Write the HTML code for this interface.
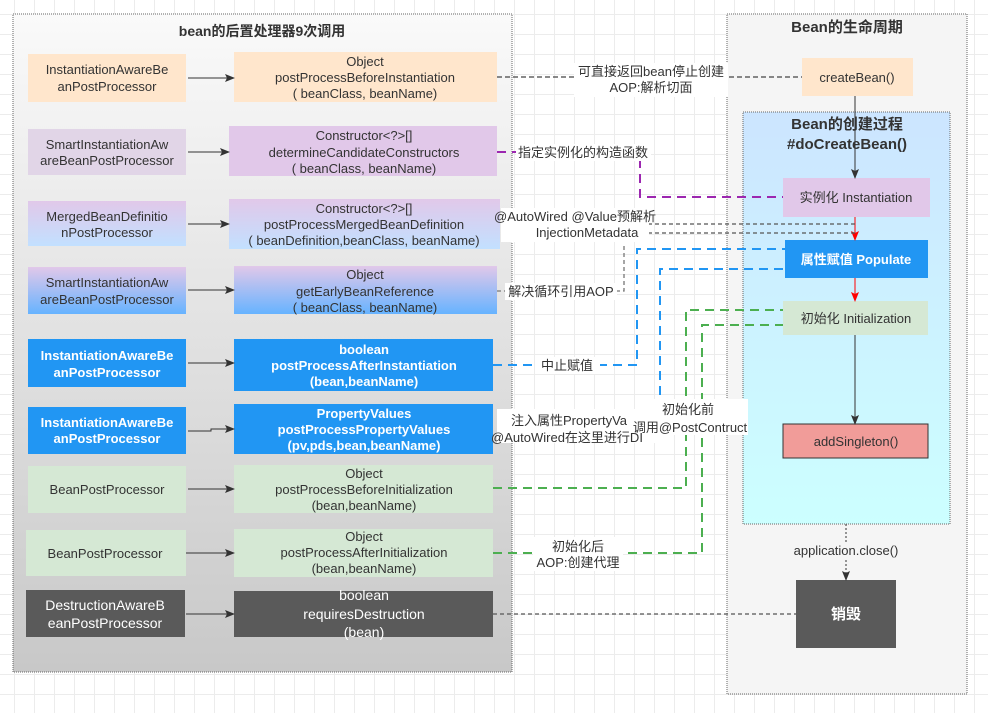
<!DOCTYPE html>
<html><head><meta charset="utf-8"><style>
html,body{margin:0;padding:0;width:988px;height:713px;overflow:hidden;background:#fff;}
body{background-image:linear-gradient(#ececec 1px,transparent 1px),linear-gradient(90deg,#ececec 1px,transparent 1px);background-size:20px 20px;background-position:-6px -6px;}
svg{position:absolute;left:0;top:0;font-family:"Liberation Sans","Noto Sans CJK SC",sans-serif;}
</style></head><body>
<svg width="988" height="713" viewBox="0 0 988 713" xmlns="http://www.w3.org/2000/svg">
<defs>
<linearGradient id="lg" x1="0" y1="0" x2="0" y2="1"><stop offset="0" stop-color="#fafafa"/><stop offset="1" stop-color="#c8c8c8"/></linearGradient>
<linearGradient id="ig" x1="0" y1="0" x2="0" y2="1"><stop offset="0" stop-color="#cce5ff"/><stop offset="1" stop-color="#ccffff"/></linearGradient>
<linearGradient id="p1" x1="0" y1="0" x2="0" y2="1"><stop offset="0" stop-color="#e1c8e9"/><stop offset="1" stop-color="#c2e0ff"/></linearGradient>
<linearGradient id="p2" x1="0" y1="0" x2="0" y2="1"><stop offset="0" stop-color="#e1c8e9"/><stop offset="1" stop-color="#66b3ff"/></linearGradient>
<marker id="a" markerWidth="10" markerHeight="8" refX="9" refY="4" orient="auto" markerUnits="userSpaceOnUse"><path d="M0,0L10,4L0,8L2,4Z" fill="#333"/></marker>
<marker id="r" markerWidth="10" markerHeight="8" refX="9" refY="4" orient="auto" markerUnits="userSpaceOnUse"><path d="M0,0L10,4L0,8L2,4Z" fill="#f00"/></marker>
</defs>
<rect x="13" y="14" width="499" height="658" fill="url(#lg)" stroke="#666" stroke-dasharray="1,1"/>
<text x="262" y="36" text-anchor="middle" font-size="14" font-weight="bold" fill="#333">bean的后置处理器9次调用</text>
<rect x="727" y="14" width="240" height="680" fill="#f5f5f5" stroke="#666" stroke-dasharray="1,1"/>
<text x="847" y="32" text-anchor="middle" font-size="15" font-weight="bold" fill="#333">Bean的生命周期</text>
<rect x="743" y="112" width="207" height="412" fill="url(#ig)" stroke="#666" stroke-dasharray="1,1"/>
<text x="847" y="129" text-anchor="middle" font-size="15" font-weight="bold" fill="#333">Bean的创建过程</text>
<text x="847" y="149" text-anchor="middle" font-size="15" font-weight="bold" fill="#333">#doCreateBean()</text>

<g font-size="13" text-anchor="middle">
<rect x="28" y="54" width="158" height="48" fill="#ffe6cc"/>
<text x="107" y="74" fill="#333">InstantiationAwareBe</text><text x="107" y="91" fill="#333">anPostProcessor</text>
<rect x="234" y="52" width="263" height="50" fill="#ffe6cc"/>
<text x="365" y="66" fill="#333">Object</text><text x="365" y="82" fill="#333">postProcessBeforeInstantiation</text><text x="365" y="98" fill="#333">( beanClass, beanName)</text>
<rect x="28" y="129" width="158" height="46" fill="#e1d5e7"/>
<text x="107" y="149" fill="#333">SmartInstantiationAw</text><text x="107" y="165" fill="#333">areBeanPostProcessor</text>
<rect x="229" y="126" width="268" height="50" fill="#e1c8e9"/>
<text x="364" y="140" fill="#333">Constructor&lt;?&gt;[]</text><text x="364" y="157" fill="#333">determineCandidateConstructors</text><text x="364" y="173" fill="#333">( beanClass, beanName)</text>
<rect x="28" y="201" width="158" height="45" fill="url(#p1)"/>
<text x="107" y="221" fill="#333">MergedBeanDefinitio</text><text x="107" y="237" fill="#333">nPostProcessor</text>
<rect x="229" y="199" width="271" height="50" fill="url(#p1)"/>
<text x="364" y="213" fill="#333">Constructor&lt;?&gt;[]</text><text x="364" y="229" fill="#333">postProcessMergedBeanDefinition</text><text x="364" y="245" fill="#333">( beanDefinition,beanClass, beanName)</text>
<rect x="28" y="267" width="158" height="47" fill="url(#p2)"/>
<text x="107" y="287" fill="#333">SmartInstantiationAw</text><text x="107" y="304" fill="#333">areBeanPostProcessor</text>
<rect x="234" y="266" width="263" height="48" fill="url(#p2)"/>
<text x="365" y="279" fill="#333">Object</text><text x="365" y="296" fill="#333">getEarlyBeanReference</text><text x="365" y="312" fill="#333">( beanClass, beanName)</text>
<rect x="28" y="339" width="158" height="48" fill="#2196f3"/>
<g fill="#fff" font-weight="bold">
<text x="107" y="360">InstantiationAwareBe</text><text x="107" y="377">anPostProcessor</text>
</g>
<rect x="234" y="339" width="259" height="52" fill="#2196f3"/>
<g fill="#fff" font-weight="bold">
<text x="364" y="354">boolean</text><text x="364" y="370">postProcessAfterInstantiation</text><text x="364" y="386">(bean,beanName)</text>
</g>
<rect x="28" y="407" width="158" height="47" fill="#2196f3"/>
<g fill="#fff" font-weight="bold">
<text x="107" y="427">InstantiationAwareBe</text><text x="107" y="443">anPostProcessor</text>
</g>
<rect x="28" y="466" width="158" height="47" fill="#d5e8d4"/>
<text x="107" y="494" fill="#333">BeanPostProcessor</text>
<rect x="234" y="465" width="259" height="48" fill="#d5e8d4"/>
<text x="364" y="478" fill="#333">Object</text><text x="364" y="494" fill="#333">postProcessBeforeInitialization</text><text x="364" y="510" fill="#333">(bean,beanName)</text>
<rect x="26" y="530" width="160" height="46" fill="#d5e8d4"/>
<text x="105" y="558" fill="#333">BeanPostProcessor</text>
<rect x="234" y="529" width="259" height="48" fill="#d5e8d4"/>
<text x="364" y="541" fill="#333">Object</text><text x="364" y="557" fill="#333">postProcessAfterInitialization</text><text x="364" y="573" fill="#333">(bean,beanName)</text>
<rect x="26" y="590" width="159" height="47" fill="#5a5a5a"/>
<g fill="#fff" font-size="14"><text x="105" y="610">DestructionAwareB</text><text x="105" y="628">eanPostProcessor</text></g>
<rect x="234" y="591" width="259" height="46" fill="#5a5a5a"/>
<g fill="#fff" font-size="14"><text x="364" y="600">boolean</text><text x="364" y="619">requiresDestruction</text><text x="364" y="637">(bean)</text></g>
</g>
<rect x="234" y="404" width="259" height="50" fill="#2196f3"/>
<g fill="#fff" font-weight="bold" font-size="13" text-anchor="middle">
<text x="364" y="418">PropertyValues</text><text x="364" y="434">postProcessPropertyValues</text><text x="364" y="450">(pv,pds,bean,beanName)</text>
</g>

<g stroke="#333" stroke-width="1" marker-end="url(#a)">
<line x1="188" y1="78" x2="234" y2="78"/>
<line x1="188" y1="152" x2="229" y2="152"/>
<line x1="188" y1="224" x2="229" y2="224"/>
<line x1="188" y1="290" x2="234" y2="290"/>
<line x1="188" y1="363" x2="234" y2="363"/>
<polyline points="188,431 211,431 211,429 234,429" fill="none"/>
<line x1="188" y1="489" x2="234" y2="489"/>
<line x1="186" y1="553" x2="234" y2="553"/>
<line x1="186" y1="614" x2="234" y2="614"/>
</g>

<rect x="802" y="58" width="111" height="38" fill="#ffe6cc"/>
<text x="857" y="82" text-anchor="middle" font-size="13" fill="#333">createBean()</text>
<rect x="783" y="178" width="147" height="39" fill="#e1c8e9"/>
<text x="856" y="202" text-anchor="middle" font-size="13" fill="#333">实例化 Instantiation</text>
<rect x="785" y="240" width="143" height="38" fill="#2196f3"/>
<text x="856" y="264" text-anchor="middle" font-size="13" font-weight="bold" fill="#fff">属性赋值 Populate</text>
<rect x="783" y="301" width="145" height="34" fill="#d5e8d4"/>
<text x="856" y="323" text-anchor="middle" font-size="13" fill="#333">初始化 Initialization</text>
<rect x="783" y="424" width="145" height="34" fill="#f19c99" stroke="#333"/>
<text x="856" y="446" text-anchor="middle" font-size="13" fill="#333">addSingleton()</text>
<rect x="796" y="580" width="100" height="68" fill="#5a5a5a"/>
<text x="846" y="619" text-anchor="middle" font-size="15" font-weight="bold" fill="#fff">销毁</text>

<line x1="855" y1="96" x2="855" y2="178" stroke="#333" marker-end="url(#a)"/>
<line x1="855" y1="217" x2="855" y2="240" stroke="#f00" marker-end="url(#r)"/>
<line x1="855" y1="278" x2="855" y2="301" stroke="#f00" marker-end="url(#r)"/>
<line x1="855" y1="335" x2="855" y2="424" stroke="#333" marker-end="url(#a)"/>
<line x1="846" y1="524" x2="846" y2="580" stroke="#333" stroke-dasharray="2,2" marker-end="url(#a)"/>
<rect x="788" y="542" width="116" height="16" fill="#f5f5f5"/>
<text x="846" y="555" text-anchor="middle" font-size="13" fill="#333">application.close()</text>

<g fill="none" stroke-width="1.3">
<line x1="497" y1="77" x2="802" y2="77" stroke="#444" stroke-dasharray="5,3"/>
<polyline points="497,152 640,152 640,197 783,197" stroke="#9c27b0" stroke-width="2" stroke-dasharray="9,6"/>
<line x1="620" y1="224" x2="855" y2="224" stroke="#555" stroke-dasharray="4,3"/>
<line x1="620" y1="233" x2="855" y2="233" stroke="#555" stroke-dasharray="4,3"/>
<polyline points="497,291 624,291 624,245" stroke="#777" stroke-dasharray="4,3"/>
<polyline points="493,365 637,365 637,249 785,249" stroke="#2196f3" stroke-width="2" stroke-dasharray="9,6"/>
<polyline points="660,410 660,269 785,269" stroke="#2196f3" stroke-width="2" stroke-dasharray="9,6"/>
<polyline points="493,488 686,488 686,310 783,310" stroke="#4caf50" stroke-width="2" stroke-dasharray="9,6"/>
<polyline points="493,553 702,553 702,325 783,325" stroke="#4caf50" stroke-width="2" stroke-dasharray="9,6"/>
<line x1="493" y1="614" x2="796" y2="614" stroke="#555" stroke-dasharray="4,3"/>
</g>

<g font-size="13" fill="#333" text-anchor="middle">
<rect x="574" y="63" width="154" height="34" fill="#fff"/>
<text x="651" y="76">可直接返回bean停止创建</text><text x="651" y="92">AOP:解析切面</text>
<rect x="516" y="144" width="135" height="17" fill="#fff"/>
<text x="583" y="157">指定实例化的构造函数</text>
<rect x="501" y="208" width="148" height="34" fill="#fff"/>
<text x="575" y="221">@AutoWired @Value预解析</text><text x="587" y="237">InjectionMetadata</text>
<rect x="505" y="283" width="112" height="17" fill="#fff"/>
<text x="561" y="296">解决循环引用AOP</text>
<rect x="538" y="357" width="62" height="17" fill="#fff"/>
<text x="567" y="370">中止赋值</text>
<rect x="497" y="409" width="163" height="34" fill="#fff"/>
<text x="569" y="425">注入属性PropertyVa</text><text x="567" y="442">@AutoWired在这里进行DI</text>
<rect x="648" y="399" width="100" height="36" fill="#fff"/>
<text x="688" y="414">初始化前</text><text x="690" y="432">调用@PostContruct</text>
<rect x="533" y="537" width="90" height="34" fill="#fff"/>
<text x="578" y="551">初始化后</text><text x="578" y="567">AOP:创建代理</text>
</g>
</svg>
</body></html>
